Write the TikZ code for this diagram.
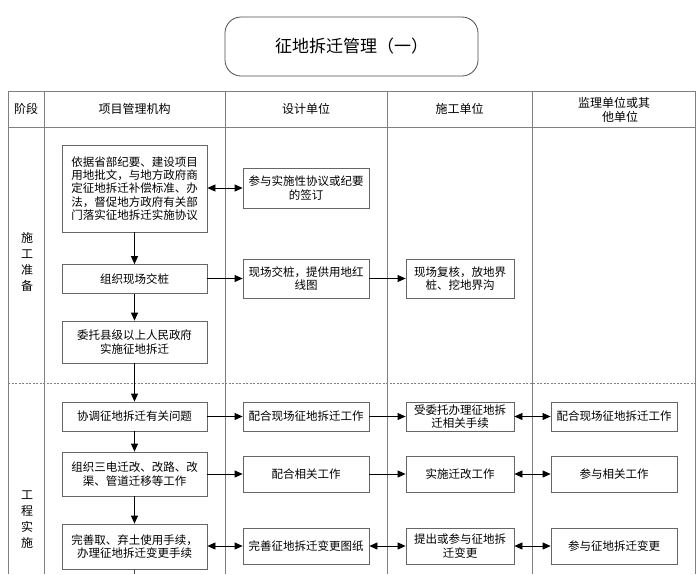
\documentclass[tikz,border=0pt]{standalone}
\usepackage{fontspec}
\setmainfont{Noto Sans CJK SC}
\usetikzlibrary{arrows.meta}
\tikzset{
  grid/.style={draw=black!50, line width=0.8pt},
  box/.style={draw=black!60, line width=0.8pt, inner sep=0pt, align=center, font=\fontsize{11.5}{13.3}\selectfont},
  conn/.style={draw=black, line width=0.8pt, -{Triangle[length=8pt,width=7pt]}},
  dconn/.style={draw=black, line width=0.8pt, {Triangle[length=8pt,width=7pt]}-{Triangle[length=8pt,width=7pt]}},
  plainconn/.style={draw=black!70, line width=0.8pt},
  head/.style={font=\fontsize{12}{14}\selectfont, align=center, inner sep=0pt},
  phase/.style={font=\fontsize{12}{16}\selectfont, align=center, inner sep=0pt},
}
\begin{document}
\begin{tikzpicture}[x=1pt,y=-1pt]
\useasboundingbox (0,0) rectangle (699,574);
% title
\node[draw=black!70, line width=0.8pt, rounded corners=16pt, minimum width=253pt, minimum height=59pt, inner sep=0pt, font=\fontsize{17}{20}\selectfont] (title) at (351.5,46.5) {征地拆迁管理（一）};
% table grid
\draw[grid] (8,91) -- (695,91);
\draw[grid] (8,127) -- (695,127);
\draw[grid] (8,91) -- (8,574);
\draw[grid] (695,91) -- (695,574);
\foreach \xx in {44,225,387,532} \draw[grid] (\xx,91) -- (\xx,574);
\draw[draw=black!50, line width=0.6pt, dash pattern=on 2pt off 1.5pt] (8,383) -- (695,383);
% header
\node[head] (h0) at (26,109) {阶段};
\node[head] (h1) at (134.5,109) {项目管理机构};
\node[head] (h2) at (306,109) {设计单位};
\node[head] (h3) at (459.5,109) {施工单位};
\node[head] (h4) at (614,110) {监理单位或其\\\hspace*{1em}他单位};
% phases
\node[phase] (p1) at (27,262) {施\\工\\准\\备};
\node[phase] (p2) at (27,520) {工\\程\\实\\施};
% column A
\node[box, minimum width=145pt, minimum height=87pt] (a1) at (134.5,188.5) {依据省部纪要、建设项目\\用地批文，与地方政府商\\定征地拆迁补偿标准、办\\法，督促地方政府有关部\\门落实征地拆迁实施协议};
\node[box, minimum width=145pt, minimum height=29pt] (a2) at (134.5,279) {组织现场交桩};
\node[box, minimum width=145pt, minimum height=42pt] (a3) at (134.5,342) {委托县级以上人民政府\\实施征地拆迁};
\node[box, minimum width=145pt, minimum height=29pt] (a4) at (134.5,416.5) {协调征地拆迁有关问题};
\node[box, minimum width=145pt, minimum height=44pt] (a5) at (134.5,474) {组织三电迁改、改路、改\\渠、管道迁移等工作};
\node[box, minimum width=145pt, minimum height=45pt] (a6) at (134.5,546.5) {完善取、弃土使用手续，\\办理征地拆迁变更手续};
\coordinate (aend) at (134.5,574);
% column D
\node[box, minimum width=126pt, minimum height=40pt] (d1) at (306,188) {参与实施性协议或纪要\\的签订};
\node[box, minimum width=126pt, minimum height=39pt] (d2) at (306,278.5) {现场交桩，提供用地红\\线图};
\node[box, minimum width=126pt, minimum height=29pt] (d4) at (306,416.5) {配合现场征地拆迁工作};
\node[box, minimum width=126pt, minimum height=36pt] (d5) at (306,474) {配合相关工作};
\node[box, minimum width=126pt, minimum height=36pt] (d6) at (306,546) {完善征地拆迁变更图纸};
% column C
\node[box, minimum width=108pt, minimum height=39pt] (c2) at (460,278.5) {现场复核，放地界\\桩、挖地界沟};
\node[box, minimum width=108pt, minimum height=29pt] (c4) at (460,416.5) {受委托办理征地拆\\迁相关手续};
\node[box, minimum width=108pt, minimum height=36pt] (c5) at (460,474) {实施迁改工作};
\node[box, minimum width=108pt, minimum height=36pt] (c6) at (460,546) {提出或参与征地拆\\迁变更};
% column M
\node[box, minimum width=126pt, minimum height=29pt] (m4) at (614,416.5) {配合现场征地拆迁工作};
\node[box, minimum width=126pt, minimum height=36pt] (m5) at (614,474) {参与相关工作};
\node[box, minimum width=126pt, minimum height=36pt] (m6) at (614,546) {参与征地拆迁变更};
% vertical connectors
\draw[conn] (a1) -- (a2);
\draw[conn] (a2) -- (a3);
\draw[conn] (a3) -- (a4);
\draw[conn] (a4) -- (a5);
\draw[conn] (a5) -- (a6);
\draw[plainconn] (a6) -- (aend);
% horizontal connectors
\draw[dconn] (a1.east |- d1.west) -- (d1.west);
\draw[conn] (a2.east |- d2.west) -- (d2.west);
\draw[conn] (d2) -- (c2);
\draw[conn] (a4) -- (d4);
\draw[conn] (d4) -- (c4);
\draw[dconn] (c4) -- (m4);
\draw[conn] (a5.east |- d5.west) -- (d5.west);
\draw[conn] (d5) -- (c5);
\draw[dconn] (c5) -- (m5);
\draw[dconn] (a6.east |- d6.west) -- (d6.west);
\draw[dconn] (d6) -- (c6);
\draw[dconn] (c6) -- (m6);
\end{tikzpicture}
\end{document}
